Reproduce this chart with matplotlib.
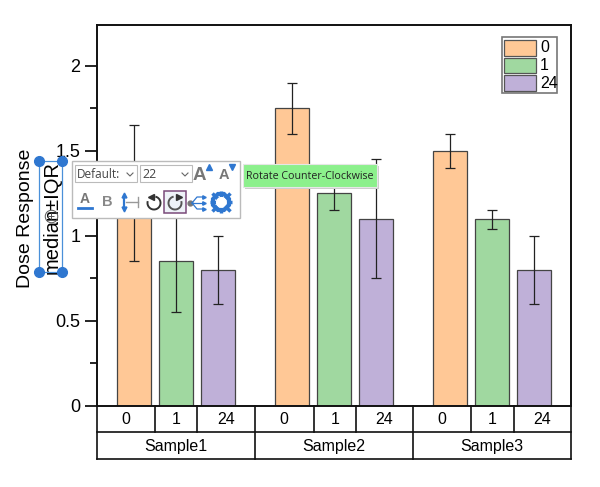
import matplotlib
matplotlib.use("Agg")
import matplotlib.pyplot as plt
from matplotlib.patches import Rectangle, Arc
from matplotlib.lines import Line2D

samples = ["Sample1", "Sample2", "Sample3"]
doses = ["0", "1", "24"]
colors = ["#FFC896", "#A0D8A0", "#BFB0D8"]
median = {"0": [1.25, 1.75, 1.50], "1": [0.85, 1.25, 1.10], "24": [0.80, 1.10, 0.80]}
low = {"0": [0.85, 1.60, 1.40], "1": [0.55, 1.15, 1.04], "24": [0.60, 0.75, 0.60]}
high = {"0": [1.65, 1.90, 1.60], "1": [1.15, 1.35, 1.15], "24": [1.00, 1.45, 1.00]}
yticks = [0, 0.5, 1, 1.5, 2]
yticklabels = ["0", "0.5", "1", "1.5", "2"]

W, H = 600, 487
plt.rcParams["font.family"] = ["Liberation Sans", "DejaVu Sans"]
fig = plt.figure(figsize=(W / 100, H / 100), dpi=100)


def fx(p):
    return p / W


def fy(p):
    return 1 - p / H


def box(x0, y0, x1, y1, **kw):
    fig.add_artist(Rectangle((fx(x0), fy(y1)), (x1 - x0) / W, (y1 - y0) / H,
                             transform=fig.transFigure, **kw))


def seg(xs, ys, **kw):
    fig.add_artist(Line2D([fx(v) for v in xs], [fy(v) for v in ys], **kw))


def dot(x, y, **kw):
    fig.add_artist(Line2D([fx(x)], [fy(y)], linestyle="none", **kw))


def ring(x, y, r, a1, a2, **kw):
    fig.add_artist(Arc((fx(x), fy(y)), 2 * r / W, 2 * r / H, theta1=a1, theta2=a2,
                       transform=fig.transFigure, **kw))


ax = fig.add_axes([fx(97), fy(406), fx(571) - fx(97), fy(25) - fy(406)])
ax.set_xlim(0, 3)
ax.set_ylim(0, 2.24)
offset = 42 / 158
width = 34 / 158
for j, d in enumerate(doses):
    for i in range(3):
        x = i + 0.5 + (j - 1) * offset
        ax.bar(x, median[d][i], width, color=colors[j], edgecolor="#444444", linewidth=0.9, zorder=2)
        ax.errorbar(x, median[d][i],
                    yerr=[[median[d][i] - low[d][i]], [high[d][i] - median[d][i]]],
                    color="#222222", elinewidth=0.9, capsize=3.5, capthick=0.9, zorder=3)
for s in ax.spines.values():
    s.set_linewidth(1.4)
    s.set_color("#111111")
ax.set_xticks([])
ax.set_yticks(yticks)
ax.set_yticklabels(yticklabels, fontsize=13)
ax.set_yticks([0.25, 0.75, 1.25, 1.75], minor=True)
ax.tick_params(axis="y", which="major", length=9, width=1.2, pad=3)
ax.tick_params(axis="y", which="minor", length=5, width=1.2)

# legend
box(502, 37, 557, 93, fc="white", ec="#777777", lw=1.2, zorder=5)
for j, d in enumerate(doses):
    top = 40 + j * 17.7
    box(504, top, 536, top + 15.5, fc=colors[j], ec="#555555", lw=0.9, zorder=6)
    fig.text(fx(540), fy(top + 8), d, fontsize=11.5, va="center", ha="left", zorder=6)

# two-level axis table
lines = [((97, 571), (432, 432)), ((97, 571), (459, 459)), ((97, 97), (406, 459)), ((571, 571), (406, 459)),
         ((255, 255), (406, 459)), ((413, 413), (406, 459))]
for px in [155, 197, 314, 356, 471, 514]:
    lines.append(((px, px), (406, 432)))
for xs, ys in lines:
    seg(xs, ys, color="#111111", lw=1.2)
cell_centers = [126, 176, 226, 284, 335, 384, 442, 492, 542]
for k, c in enumerate(cell_centers):
    fig.text(fx(c), fy(419), doses[k % 3], fontsize=11.5, ha="center", va="center")
for k, c in enumerate([176, 334, 492]):
    fig.text(fx(c), fy(446), samples[k], fontsize=11.5, ha="center", va="center")

# axis title
fig.text(fx(25), fy(218), "Dose Response", fontsize=14, rotation=90, ha="center", va="center")
fig.text(fx(52), fy(217), "median±IQR", fontsize=14.5, rotation=90, ha="center", va="center", zorder=7)

# selection box
box(39, 161, 62, 272, fc="none", ec="#4A90D9", lw=0.9, zorder=8)
for px, py in [(39, 161), (62, 161), (39, 272), (62, 272)]:
    dot(px, py, marker="o", ms=7, color="#2F77D0", zorder=9)
dot(51, 216, marker="o", ms=9, mfc="none", mec="#555555", mew=0.7, zorder=9)
dot(51, 216, marker="+", ms=5, mec="#555555", mew=0.7, zorder=9)

# toolbar
ICON = "#777777"
BLUE = "#2F77D0"
box(72, 161, 240, 218, fc="white", ec="#BBBBBB", lw=1, zorder=10)
box(75, 165, 137, 182, fc="white", ec="#BBBBBB", lw=0.8, zorder=11)
box(140, 165, 192, 182, fc="white", ec="#BBBBBB", lw=0.8, zorder=11)
fig.text(fx(77), fy(174), "Default:", fontsize=8.5, va="center", color="#444444", zorder=12, family="Open Sans")
fig.text(fx(142), fy(174), "22", fontsize=9, va="center", color="#444444", zorder=12, family="Open Sans")
for px, py in [(130, 174), (185, 174)]:
    seg([px - 3, px, px + 3], [py - 1, py + 2, py - 1], color="#666666", lw=0.8, zorder=12)
fig.text(fx(199), fy(175), "A", fontsize=13.5, weight="bold", color=ICON, ha="center", va="center", zorder=12)
fig.text(fx(224), fy(175), "A", fontsize=10.5, weight="bold", color=ICON, ha="center", va="center", zorder=12)
dot(209, 167, marker="^", ms=4, color=BLUE, zorder=12)
dot(232, 167, marker="v", ms=4, color=BLUE, zorder=12)
fig.text(fx(85), fy(199), "A", fontsize=10, weight="bold", color=ICON, ha="center", va="center", zorder=12)
seg([78, 92], [207.5, 207.5], color=BLUE, lw=2, zorder=12)
fig.text(fx(107), fy(202), "B", fontsize=10.5, weight="bold", color="#888888", ha="center", va="center", zorder=12)
seg([124, 124], [196, 208], color=BLUE, lw=1.6, zorder=12)
dot(124, 195, marker="^", ms=3.5, color=BLUE, zorder=12)
dot(124, 209, marker="v", ms=3.5, color=BLUE, zorder=12)
seg([126, 138], [202, 202], color="#999999", lw=1, zorder=12)
seg([138, 138], [197, 207], color="#999999", lw=1, zorder=12)
box(164, 191, 186, 213, fc="#EEF2F8", ec="#7A4A7A", lw=1.1, zorder=11.5)
ring(154, 203, 6.5, -200, 80, color="#333333", lw=1.4, zorder=12)
dot(151, 197, marker="<", ms=4, color="#333333", zorder=12)
ring(175, 203, 6.5, 100, 380, color="#555555", lw=1.4, zorder=12)
dot(179, 197, marker=">", ms=4, color="#333333", zorder=12)
dot(190, 203, marker="o", ms=3.5, color=ICON, zorder=12)
for dy in (-6, 0, 6):
    seg([192, 197, 203], [203, 203 + dy, 203 + dy], color=BLUE, lw=0.9, zorder=12)
    dot(204, 203 + dy, marker=">", ms=2.5, color=BLUE, zorder=12)
dot(221, 202, marker="8", ms=12, mfc="none", mec=BLUE, mew=3, zorder=12)
dot(221, 202, marker="+", ms=16, mfc="none", mec=BLUE, mew=2.5, zorder=11.8)
dot(221, 202, marker="x", ms=13, mfc="none", mec=BLUE, mew=2.5, zorder=11.8)
dot(221, 202, marker="o", ms=7, mfc="white", mec="white", zorder=11.9)

# tooltip
box(245, 166, 379, 189, fc="#CCCCCC", ec="none", zorder=12.5)
box(243, 164, 377, 187, fc="#8CF08C", ec="#E6E6E6", lw=0.8, zorder=13)
fig.text(fx(246), fy(176.5), "Rotate Counter-Clockwise", fontsize=7.7, va="center", color="#222222", zorder=14, family="Open Sans")

fig.savefig("out.png", dpi=100, facecolor="white")
